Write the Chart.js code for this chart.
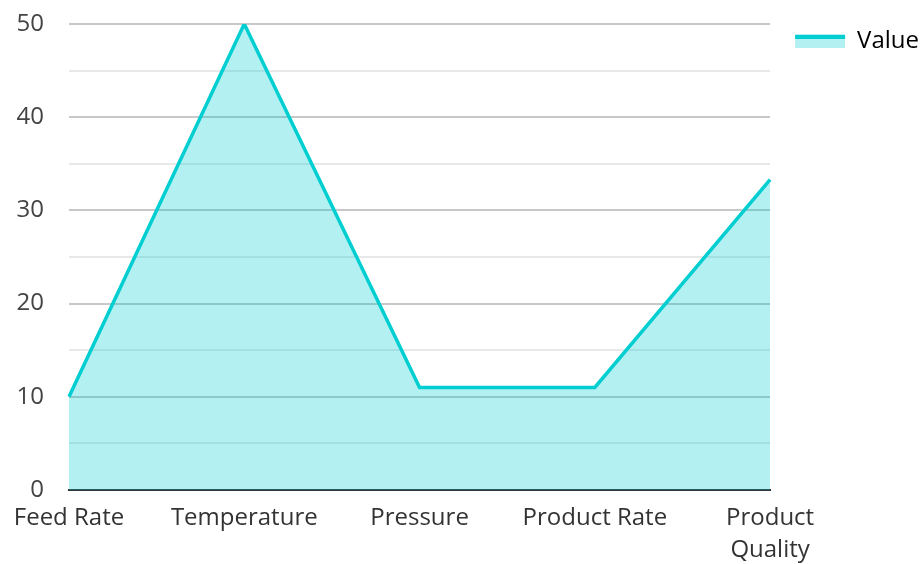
<!DOCTYPE html>
<html>
<head>
<meta charset="utf-8">
<script src="https://cdn.jsdelivr.net/npm/chart.js@4/dist/chart.umd.min.js"></script>
<style>
  html, body { margin: 0; padding: 0; background: #fff; }
  #wrap { width: 920px; height: 564px; }
</style>
</head>
<body>
<div id="wrap"><canvas id="chart" width="920" height="564"></canvas></div>
<script>
const categories = ["Feed Rate", "Temperature", "Pressure", "Product Rate", ["Product", "Quality"]];
const values = [10, 50, 11, 11, 33.3];
const seriesName = "Value";

const lineColor = "#00ced1";
const fillColor = "rgba(0, 206, 209, 0.30)";

// draws the thick top stroke of the legend swatch
const legendLine = {
    id: "legendLine",
    afterDraw(chart) {
        const lg = chart.legend;
        if (!lg || !lg.legendHitBoxes) return;
        const ctx = chart.ctx;
        lg.legendHitBoxes.forEach(b => {
            ctx.save();
            ctx.fillStyle = lineColor;
            ctx.fillRect(b.left, b.top + 6, 50, 4);
            ctx.restore();
        });
    }
};

new Chart(document.getElementById("chart"), {
    type: "line",
    data: {
        labels: categories,
        datasets: [{
            label: seriesName,
            data: values,
            borderColor: lineColor,
            backgroundColor: fillColor,
            borderWidth: 3.5,
            borderJoinStyle: "miter",
            fill: "origin",
            tension: 0,
            pointRadius: 0
        }]
    },
    options: {
        responsive: false,
        animation: false,
        layout: { padding: { top: 4, right: -9, bottom: 0, left: 0 } },
        plugins: {
            legend: {
                position: "right",
                align: "start",
                labels: {
                    boxWidth: 50,
                    boxHeight: 14,
                    padding: 25,
                    color: "#333",
                    font: { family: "Open Sans", size: 24 },
                    generateLabels: (chart) => [{
                        text: seriesName,
                        fillStyle: fillColor,
                        strokeStyle: fillColor,
                        lineWidth: 0,
                        datasetIndex: 0
                    }]
                }
            },
            tooltip: { enabled: false }
        },
        scales: {
            x: {
                offset: false,
                grid: { display: false, drawTicks: false },
                border: { display: true, color: "#333", width: 2 },
                ticks: {
                    color: "#333",
                    font: { family: "Open Sans", size: 24, lineHeight: 1.33 },
                    maxRotation: 0,
                    autoSkip: false,
                    padding: 12
                },
                afterFit: (s) => { s.paddingLeft = 0; s.paddingRight = 0; s.height = 74; }
            },
            y: {
                min: 0,
                max: 50,
                grid: {
                    drawTicks: false,
                    lineWidth: 2,
                    color: (c) => (c.tick && c.tick.value % 10 === 0) ? "#c8c8c8" : "#e8e8e8"
                },
                border: { display: false },
                ticks: {
                    stepSize: 5,
                    color: "#444",
                    padding: 25,
                    font: { family: "Open Sans", size: 24 },
                    callback: (v) => v % 10 === 0 ? v : ""
                },
                afterFit: (s) => { s.width = 69; s.paddingTop = 24; s.paddingBottom = 0; }
            }
        }
    },
    plugins: [legendLine]
});
</script>
</body>
</html>
